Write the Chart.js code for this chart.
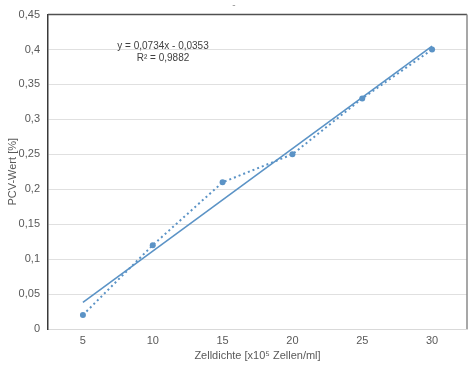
<!DOCTYPE html>
<html>
<head>
<meta charset="utf-8">
<script src="https://cdn.jsdelivr.net/npm/chart.js@4/dist/chart.umd.min.js"></script>
<style>
  body { margin: 0; background: #fff; }
  canvas { display: block; }
</style>
</head>
<body>
<canvas id="pcv-chart" width="474" height="365"></canvas>
<script>
const cellDensity = ["5", "10", "15", "20", "25", "30"];
const pcvValues = [0.02, 0.12, 0.21, 0.25, 0.33, 0.40];
// linear trend line, only the two end values
const trendValues = [0.038, null, null, null, null, 0.405];
const equationLines = ["y = 0,0734x - 0,0353", "R\u00B2 = 0,9882"];

const blue = "#5b93c6";
const textGray = "#595959";
const fontFamily = "'Liberation Sans', Arial, sans-serif";

function formatComma(v) {
  return parseFloat(v.toFixed(2)).toString().replace(".", ",");
}

const framePlugin = {
  id: "frame",
  afterDraw(chart) {
    const { ctx, chartArea } = chart;
    ctx.save();
    ctx.lineWidth = 1.5;
    ctx.strokeStyle = "#505050";
    ctx.beginPath();
    ctx.moveTo(chartArea.left, chartArea.top);
    ctx.lineTo(chartArea.right, chartArea.top);
    ctx.stroke();
    ctx.strokeStyle = "#8a8a8a";
    ctx.beginPath();
    ctx.moveTo(chartArea.right, chartArea.top);
    ctx.lineTo(chartArea.right, chartArea.bottom);
    ctx.stroke();

    // trend equation
    ctx.fillStyle = "#404040";
    ctx.font = "10px " + fontFamily;
    ctx.textAlign = "center";
    ctx.textBaseline = "middle";
    const cx = chartArea.left + 115;
    ctx.fillText(equationLines[0], cx, chartArea.top + 32);
    ctx.fillText(equationLines[1], cx, chartArea.top + 44);

    // faint title placeholder
    ctx.fillStyle = "#999";
    ctx.font = "10px " + fontFamily;
    ctx.fillText("-", 234, 5);
    ctx.restore();
  },
};

const ctx = document.getElementById("pcv-chart").getContext("2d");
new Chart(ctx, {
  type: "line",
  data: {
    labels: cellDensity,
    datasets: [
      {
        label: "PCV-Wert",
        data: pcvValues,
        borderColor: blue,
        backgroundColor: blue,
        borderWidth: 2,
        borderDash: [2, 3],
        pointRadius: 3,
        pointBorderWidth: 0,
        tension: 0,
      },
      {
        label: "Linear",
        data: trendValues,
        borderColor: blue,
        borderWidth: 1.6,
        pointRadius: 0,
        spanGaps: true,
        tension: 0,
      },
    ],
  },
  options: {
    responsive: false,
    animation: false,
    layout: { padding: { left: 2, right: 7, top: 12, bottom: 0 } },
    plugins: {
      legend: { display: false },
      tooltip: { enabled: false },
    },
    scales: {
      x: {
        offset: true,
        grid: { display: false, drawTicks: false },
        border: { display: true, color: "#d9d9d9", width: 1 },
        ticks: {
          color: textGray,
          padding: 5,
          font: { family: fontFamily, size: 11 },
        },
        title: {
          display: true,
          text: "Zelldichte [x10\u2075 Zellen/ml]",
          color: textGray,
          padding: { top: 4, bottom: 2 },
          font: { family: fontFamily, size: 11 },
        },
        afterFit(scale) {
          scale.height = 36;
        },
      },
      y: {
        min: 0,
        max: 0.45,
        grid: { color: "#e0e0e0", lineWidth: 1, drawTicks: false },
        border: { display: true, color: "#3a3a3a", width: 1.5 },
        ticks: {
          stepSize: 0.05,
          color: textGray,
          padding: 8,
          font: { family: fontFamily, size: 11 },
          callback: function (value) {
            return formatComma(value);
          },
        },
        title: {
          display: true,
          text: "PCV-Wert [%]",
          color: textGray,
          padding: { top: 4, bottom: 2 },
          font: { family: fontFamily, size: 11 },
        },
        afterFit(scale) {
          scale.width = 46;
        },
      },
    },
  },
  plugins: [framePlugin],
});
</script>
</body>
</html>
